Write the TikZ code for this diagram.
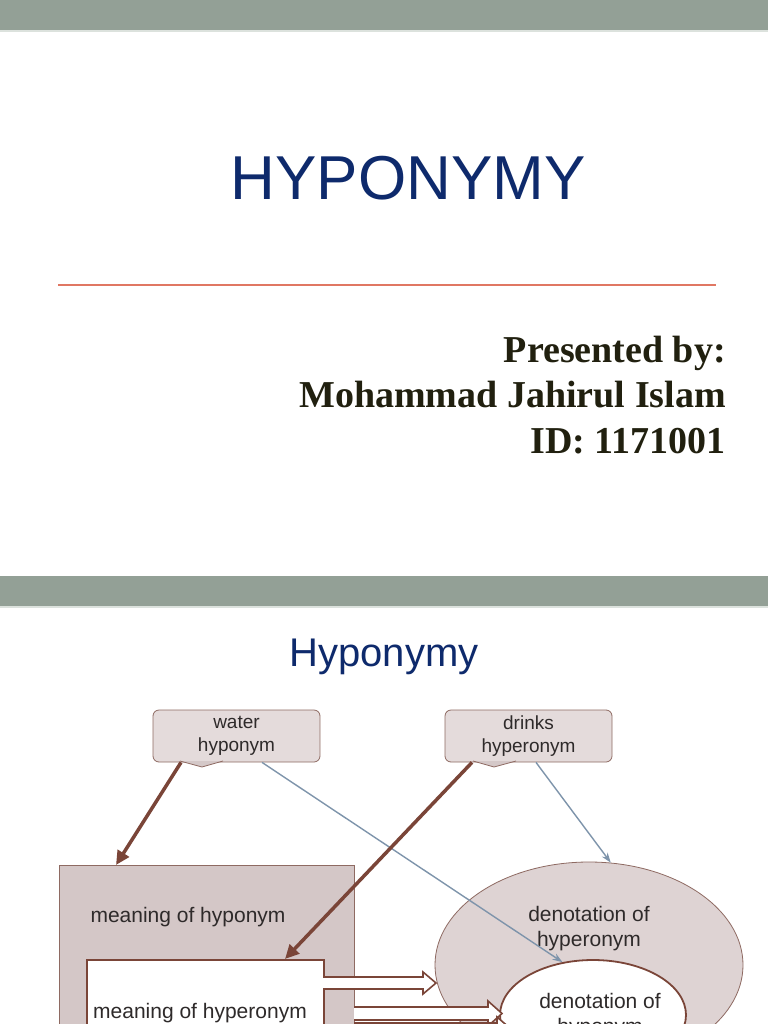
\documentclass[tikz,border=0pt]{standalone}
\usepackage{fontspec}
\setmainfont{Liberation Serif}
\setsansfont{Liberation Sans}
\usetikzlibrary{arrows.meta,shapes.geometric}
\definecolor{barcol}{HTML}{93A096}
\definecolor{barline}{HTML}{DCE2DD}
\definecolor{titleblue}{HTML}{0E2A6C}
\definecolor{rulered}{HTML}{E07763}
\definecolor{presblack}{HTML}{21200F}
\definecolor{txtcol}{HTML}{2E2A2A}
\definecolor{arrbrown}{HTML}{7A4538}
\definecolor{boxline}{HTML}{8E6A62}
\definecolor{arrblue}{HTML}{7E94AB}
\definecolor{calledge}{HTML}{E4DBDB}
\definecolor{callmid}{HTML}{BDABAB}
\definecolor{rectedge}{HTML}{D4C7C7}
\definecolor{rectmid}{HTML}{E3DADA}
\definecolor{elledge}{HTML}{DED3D3}
\definecolor{ellmid}{HTML}{C9B9B9}
\tikzset{
  presenter/.style={font=\rmfamily\bfseries\fontsize{38}{45}\selectfont, text=presblack, anchor=base east, inner sep=0pt},
  callbox/.style={draw=boxline, line width=0.8pt, rounded corners=6pt, left color=calledge, middle color=callmid, right color=calledge, minimum width=167pt, minimum height=52pt, inner sep=0pt, font=\sffamily\fontsize{19}{23}\selectfont, text=txtcol, align=center},
  lbl/.style={font=\sffamily\fontsize{21}{25}\selectfont, text=txtcol, align=center, inner sep=0pt},
  thickarr/.style={draw=arrbrown, line width=3.5pt, -{Triangle[length=14pt,width=13pt]}},
  thinarr/.style={draw=arrblue, line width=1.4pt, -{Stealth[length=10pt,width=7pt]}},
  hollow/.style={draw=arrbrown, line width=1.6pt, fill=white}
}
\begin{document}
\begin{tikzpicture}[x=1pt,y=-1pt]
    \useasboundingbox (0,0) rectangle (768,1024);
    \clip (0,0) rectangle (768,1024);
    \fill[white] (0,0) rectangle (768,1024);
    \fill[barcol] (0,0) rectangle (768,30);
    \draw[barline, line width=1.5pt] (0,31) -- (768,31);
    \node[font=\sffamily\fontsize{62}{62}\selectfont, text=titleblue, anchor=base, inner sep=0pt] (title) at (408,200) {HYPONYMY};
    \draw[rulered, line width=1.2pt] (58,285) -- (716,285);
    \node[presenter] (pres) at (726,362) {Presented by:};
    \node[presenter] (name) at (726,407) {Mohammad Jahirul Islam};
    \node[presenter] (id) at (726,453) {ID: 1171001};
    \fill[barcol] (0,576) rectangle (768,606);
    \draw[barline, line width=1.5pt] (0,607) -- (768,607);
    \node[font=\sffamily\fontsize{40}{40}\selectfont, text=titleblue, anchor=base, inner sep=0pt] (title2) at (384,666) {Hyponymy};
    \node[callbox] (water) at (236.5,736) {water\\hyponym};
    \filldraw[fill=calledge!60!callmid, draw=boxline, line width=0.8pt] (180,761) -- (202,767) -- (223,761);
    \node[callbox] (drinks) at (528.5,736) {drinks\\hyperonym};
    \filldraw[fill=calledge!60!callmid, draw=boxline, line width=0.8pt] (473,761) -- (494,767) -- (516,761);
    \node[draw=boxline, line width=0.8pt, left color=rectedge, middle color=rectmid, right color=rectedge, minimum width=295pt, minimum height=240pt, inner sep=0pt, anchor=north west] (meanhypo) at (59,865) {};
    \node[draw=arrbrown, line width=1.8pt, fill=white, minimum width=237pt, minimum height=140pt, inner sep=0pt, anchor=north west] (meanhyper) at (86,959) {};
    \node[lbl, anchor=base] (mhypo) at (188,922) {meaning of hyponym};
    \node[lbl, anchor=base] (mhyper) at (200,1018) {meaning of hyperonym};
    \node[ellipse, draw=boxline, line width=0.8pt, left color=elledge, middle color=ellmid, right color=elledge, minimum width=308pt, minimum height=206pt, inner sep=0pt] (denhyper) at (589,965) {};
    \node[ellipse, draw=arrbrown, line width=1.8pt, fill=white, minimum width=186pt, minimum height=110pt, inner sep=0pt] (denhypo) at (593,1015) {};
    \node[lbl] (dhyper) at (589,929) {denotation of\\hyperonym};
    \node[lbl] (dhypo) at (600,1016) {denotation of\\hyponym};
    \filldraw[hollow] (323,977) -- (423,977) -- (423,972) -- (436,983) -- (423,994) -- (423,989) -- (323,989);
    \filldraw[hollow] (354,1007) -- (488,1007) -- (488,1001) -- (502,1013.5) -- (488,1026) -- (488,1020) -- (354,1020);
    \filldraw[hollow] (354,1023) -- (497,1023) -- (497,1017) -- (511,1029) -- (497,1041) -- (497,1035) -- (354,1035);
    \draw[thickarr] (181,0 |- water.south) -- (116,0 |- meanhypo.north);
    \draw[thinarr] (262,0 |- water.south) -- (denhypo.120);
    \draw[thickarr] (472,0 |- drinks.south) -- (285,0 |- meanhyper.north);
    \draw[thinarr] (536,0 |- drinks.south) -- (denhyper.78);
\end{tikzpicture}
\end{document}
